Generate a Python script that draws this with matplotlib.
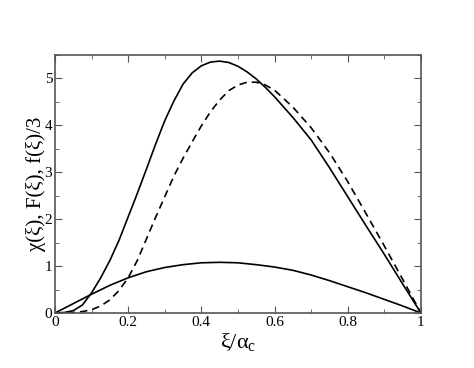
import matplotlib
matplotlib.use('Agg')
import matplotlib.pyplot as plt
from matplotlib.ticker import MultipleLocator

plt.rcParams['font.family'] = ['Liberation Serif', 'DejaVu Serif']
plt.rcParams['mathtext.fontset'] = 'custom'
plt.rcParams['mathtext.rm'] = 'Liberation Serif'

# xi / alpha_c
x_chi = [0, 0.025, 0.05, 0.075, 0.1, 0.125, 0.15, 0.175, 0.2, 0.225, 0.25, 0.275,
         0.3, 0.325, 0.35, 0.375, 0.4, 0.425, 0.45, 0.475, 0.5, 0.525, 0.55, 0.575,
         0.6, 0.65, 0.7, 0.75, 0.8, 0.85, 0.9, 0.95, 1.0]
chi = [0, 0.01, 0.05, 0.17, 0.43, 0.75, 1.12, 1.55, 2.05, 2.55, 3.07, 3.6,
       4.1, 4.52, 4.88, 5.12, 5.27, 5.35, 5.37, 5.34, 5.26, 5.14, 4.99, 4.81,
       4.61, 4.17, 3.69, 3.1, 2.48, 1.86, 1.25, 0.62, 0]

x_F = [0, 0.05, 0.075, 0.1, 0.125, 0.15, 0.175, 0.2, 0.225, 0.25, 0.275, 0.3,
       0.325, 0.35, 0.375, 0.4, 0.425, 0.45, 0.475, 0.5, 0.525, 0.55, 0.575, 0.6,
       0.65, 0.7, 0.75, 0.8, 0.85, 0.9, 0.95, 1.0]
F = [0, 0.01, 0.03, 0.07, 0.15, 0.28, 0.48, 0.75, 1.12, 1.58, 2.04, 2.48,
     2.92, 3.3, 3.65, 3.99, 4.29, 4.54, 4.74, 4.86, 4.92, 4.92, 4.86, 4.75,
     4.39, 3.95, 3.42, 2.8, 2.12, 1.43, 0.72, 0]

x_f = [0, 0.05, 0.1, 0.15, 0.2, 0.25, 0.3, 0.35, 0.4, 0.45, 0.5, 0.55, 0.6,
       0.65, 0.7, 0.75, 0.8, 0.85, 0.9, 0.95, 1.0]
f3 = [0, 0.2, 0.4, 0.59, 0.75, 0.88, 0.97, 1.03, 1.07, 1.08, 1.07, 1.03, 0.98,
      0.91, 0.81, 0.69, 0.56, 0.43, 0.29, 0.15, 0]

fig = plt.figure(figsize=(4.74, 3.68), dpi=100)
ax = fig.add_axes([0.116, 0.1495, 0.772, 0.701])

ax.plot(x_chi, chi, color='black', lw=1.2)
ax.plot(x_F, F, color='black', lw=1.2, linestyle=(0, (4.5, 3)))
ax.plot(x_f, f3, color='black', lw=1.2)

ax.set_xlim(0, 1)
ax.set_ylim(0, 5.5)
ax.xaxis.set_minor_locator(MultipleLocator(0.1))
ax.yaxis.set_minor_locator(MultipleLocator(0.5))
ax.set_xticks([0, 0.2, 0.4, 0.6, 0.8, 1.0])
ax.set_xticklabels(['0', '0.2', '0.4', '0.6', '0.8', '1'])
ax.set_yticks([0, 1, 2, 3, 4, 5])
ax.set_yticklabels(['0', '1', '2', '3', '4', '5'])

ax.tick_params(which='both', direction='in', top=True, right=True,
               color='#555555', labelsize=11, pad=2)
ax.tick_params(which='major', length=5)
ax.tick_params(which='minor', length=3)
for s in ax.spines.values():
    s.set_color('#555555')
    s.set_linewidth(1.2)

ax.set_xlabel(r'ξ/α$_{\rm c}$', fontsize=16, labelpad=2)
ax.set_ylabel('χ(ξ), F(ξ), f(ξ)/3', fontsize=15, labelpad=-1)

fig.savefig('out.png', dpi=100)
